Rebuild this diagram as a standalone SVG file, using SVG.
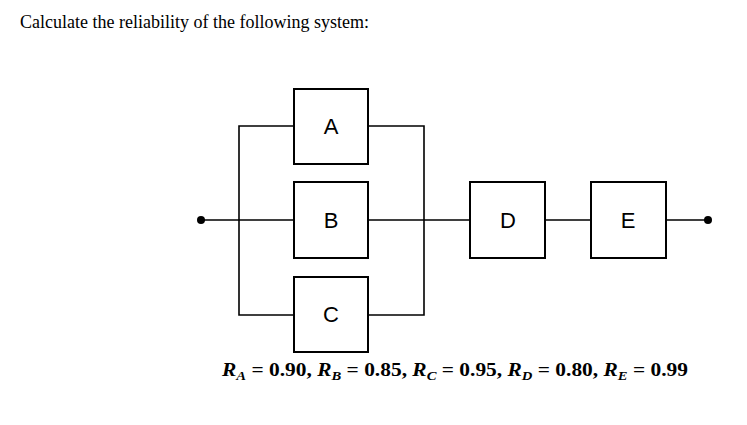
<svg xmlns="http://www.w3.org/2000/svg" width="747" height="425" viewBox="0 0 747 425">
<style>
.b{fill:#fff;stroke:#000;stroke-width:2}
.l{fill:#000;font-family:"Liberation Sans",Arial,sans-serif;font-size:22px;text-anchor:middle}
.w{fill:none;stroke:#000;stroke-width:1.6}
</style>
<rect width="747" height="425" fill="#fff"/>
<text x="20" y="28" font-family="Liberation Serif,serif" font-size="18">Calculate the reliability of the following system:</text>
<g id="connectors">
<path class="w" d="M201 220H294M368 220H470M545 220H591M666 220H708"/>
<path class="w" d="M294 126H239V315H294M368 126H424V315H368"/>
<circle cx="201" cy="220" r="4"/><circle cx="708" cy="220" r="4"/>
</g>
<g id="A"><rect class="b" x="294" y="89" width="74" height="75"/><text class="l" x="331" y="134">A</text></g>
<g id="B"><rect class="b" x="294" y="182" width="74" height="76"/><text class="l" x="331" y="228">B</text></g>
<g id="C"><rect class="b" x="294" y="277" width="74" height="75"/><text class="l" x="331" y="322">C</text></g>
<g id="D"><rect class="b" x="470" y="182" width="75" height="76"/><text class="l" x="508" y="228">D</text></g>
<g id="E"><rect class="b" x="591" y="182" width="75" height="76"/><text class="l" x="628" y="228">E</text></g>
<text x="222" y="376" font-family="Liberation Serif,serif" font-size="19" font-weight="bold" textLength="466" lengthAdjust="spacingAndGlyphs"><tspan font-style="italic">R</tspan><tspan font-style="italic" font-size="13" dy="4">A</tspan><tspan dy="-4"> = 0.90, </tspan><tspan font-style="italic">R</tspan><tspan font-style="italic" font-size="13" dy="4">B</tspan><tspan dy="-4"> = 0.85, </tspan><tspan font-style="italic">R</tspan><tspan font-style="italic" font-size="13" dy="4">C</tspan><tspan dy="-4"> = 0.95, </tspan><tspan font-style="italic">R</tspan><tspan font-style="italic" font-size="13" dy="4">D</tspan><tspan dy="-4"> = 0.80, </tspan><tspan font-style="italic">R</tspan><tspan font-style="italic" font-size="13" dy="4">E</tspan><tspan dy="-4"> = 0.99</tspan></text>
</svg>
